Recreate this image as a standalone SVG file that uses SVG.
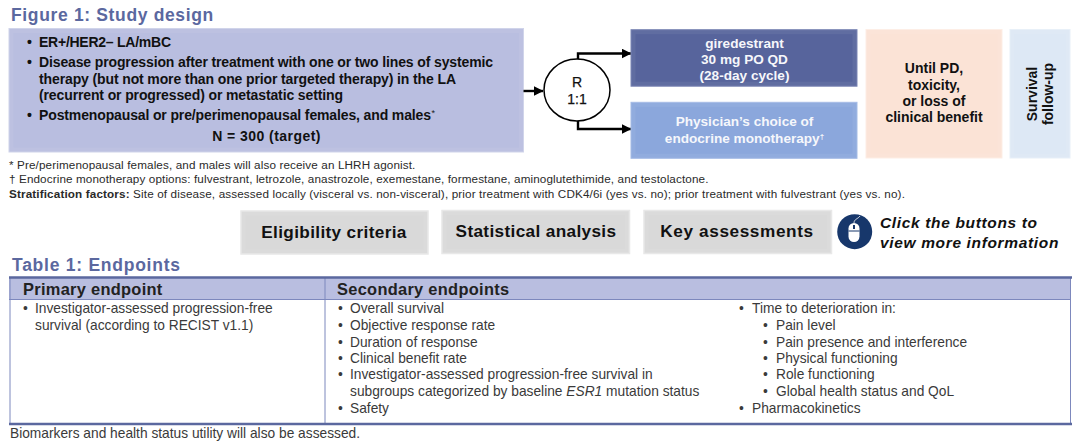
<svg xmlns="http://www.w3.org/2000/svg" width="1080" height="442" viewBox="0 0 1080 442">
<style>
text{font-family:"Liberation Sans",Arial,sans-serif;fill:#1a1a1a}
.h{font-size:17.5px;font-weight:700;fill:#5b689f;letter-spacing:.65px}
.e{font-size:14px;font-weight:700;fill:#111}
.f{font-size:11.7px;fill:#2a2a2a;letter-spacing:.12px}
.w{font-size:13.6px;font-weight:700;fill:#f6f7fb;text-anchor:middle}
.k{font-size:14px;font-weight:700;fill:#111;text-anchor:middle}
.b{font-size:17.2px;font-weight:700;fill:#111;text-anchor:middle;letter-spacing:.35px}
.t{font-size:13.75px;fill:#3a3a3a}
.th{font-size:16.4px;font-weight:700;fill:#222;letter-spacing:.3px}
.i{font-size:15.5px;font-weight:700;font-style:italic;fill:#111;letter-spacing:.65px}
.btn{fill:#d9d9d9;stroke:#e8e8e8;stroke-width:1.5}
.bev{fill:none;stroke:#fff;stroke-opacity:.06;stroke-width:4}
.c{fill:none;stroke:#000;stroke-width:2.4}
</style>
<defs><marker id="a" markerUnits="userSpaceOnUse" markerWidth="10" markerHeight="10" refX="9.500" refY="5" orient="auto"><path d="M0 0L10 5L0 10Z" fill="#000"/></marker></defs>
<text class="h" x="11" y="21">Figure 1: Study design</text>
<g id="eligibility">
<rect x="9" y="28.500" width="514.500" height="123.500" fill="#b9bee0" stroke="#d0d4ea"/>
<rect class="bev" x="11.500" y="31" width="509.500" height="118.500"/>
<text class="e" x="27" y="47">•</text><text class="e" x="39" y="47" textLength="132">ER+/HER2– LA/mBC</text>
<text class="e" x="27" y="67">•</text><text class="e" x="39" y="67" textLength="454">Disease progression after treatment with one or two lines of systemic</text>
<text class="e" x="39" y="83.500" textLength="417">therapy (but not more than one prior targeted therapy) in the LA</text>
<text class="e" x="39" y="100" textLength="304">(recurrent or progressed) or metastatic setting</text>
<text class="e" x="27" y="120">•</text><text class="e" x="39" y="120" textLength="392">Postmenopausal or pre/perimenopausal females, and males</text><text x="431.500" y="116" font-size="9">*</text>
<text class="e" x="266.500" y="141" text-anchor="middle" letter-spacing=".45">N = 300 (target)</text>
</g>
<g id="connectors">
<path class="c" d="M523.500 91H543" marker-end="url(#a)"/>
<path class="c" d="M578 59V53.500H631" marker-end="url(#a)"/>
<path class="c" d="M578 121V129H631" marker-end="url(#a)"/>
</g>
<g id="randomize"><ellipse cx="577" cy="90" rx="33" ry="31" fill="#fff" stroke="#000" stroke-width="1.500"/>
<text class="k" x="577" y="87" style="font-weight:400" stroke="#111" stroke-width=".25">R</text><text class="k" x="577" y="104" style="font-weight:400" stroke="#111" stroke-width=".25">1:1</text></g>
<g id="giredestrant"><rect x="631" y="29.700" width="226" height="56.500" fill="#57649c" stroke="#7c87b5"/>
<rect class="bev" x="633.500" y="32.200" width="221" height="51.500"/>
<text class="w" x="744.500" y="47.500">giredestrant</text><text class="w" x="744.500" y="64">30 mg PO QD</text><text class="w" x="744.500" y="80">(28-day cycle)</text></g>
<g id="physician"><rect x="631" y="102.300" width="226" height="56" fill="#8ba7dc" stroke="#a5bce6"/>
<rect class="bev" x="633.500" y="104.800" width="221" height="51"/>
<text class="w" x="744.500" y="126">Physician’s choice of</text><text class="w" x="744.500" y="142.700">endocrine monotherapy<tspan font-size="8" dy="-4">†</tspan></text></g>
<g id="until"><rect x="866" y="29.500" width="136" height="128.500" fill="#fbe3d6" stroke="#fdeee6"/>
<rect class="bev" x="868.500" y="32" width="131" height="123.500"/>
<text class="k" x="934" y="73">Until PD,</text><text class="k" x="934" y="89.500">toxicity,</text><text class="k" x="934" y="106">or loss of</text><text class="k" x="934" y="122">clinical benefit</text></g>
<g id="survival"><rect x="1010" y="29.500" width="60" height="128.500" fill="#dde8f5" stroke="#e8f0f8"/>
<rect class="bev" x="1012.500" y="32" width="55" height="123.500"/>
<text class="k" transform="translate(1037 94) rotate(-90)">Survival</text><text class="k" transform="translate(1053 94) rotate(-90)">follow-up</text></g>
<text class="f" x="9" y="169">* Pre/perimenopausal females, and males will also receive an LHRH agonist.</text>
<text class="f" x="9" y="183" textLength="699.500">† Endocrine monotherapy options: fulvestrant, letrozole, anastrozole, exemestane, formestane, aminoglutethimide, and testolactone.</text>
<text class="f" x="9" y="197.500" textLength="896"><tspan font-weight="700">Stratification factors:</tspan> Site of disease, assessed locally (visceral vs. non-visceral), prior treatment with CDK4/6i (yes vs. no); prior treatment with fulvestrant (yes vs. no).</text>
<g id="btn-eligibility"><rect class="btn" x="241" y="211" width="187" height="43"/><rect class="bev" x="243.500" y="213.500" width="182" height="38"/><text class="b" x="334" y="238">Eligibility criteria</text></g>
<g id="btn-statistical"><rect class="btn" x="442" y="210.500" width="187.500" height="43"/><rect class="bev" x="444.500" y="213" width="182.500" height="38"/><text class="b" x="536" y="237">Statistical analysis</text></g>
<g id="btn-key"><rect class="btn" x="644" y="210.500" width="187.500" height="43"/><rect class="bev" x="646.500" y="213" width="182.500" height="38"/><text class="b" x="737" y="237" style="letter-spacing:.6px">Key assessments</text></g>
<g id="hint"><circle cx="854.700" cy="231.700" r="17.500" fill="#17376b"/><path d="M854 223C854 219 858 219 860 216" fill="none" stroke="#fff" stroke-width=".8"/><rect x="848.500" y="223" width="11" height="19" rx="5.500" fill="#fff"/><path d="M848.500 231H859.500" stroke="#17376b"/><rect x="853" y="225" width="2" height="4" fill="#17376b"/>
<text class="i" x="880" y="228.300">Click the buttons to</text><text class="i" x="880" y="247.700">view more information</text></g>
<text class="h" x="12" y="271" style="letter-spacing:.75px">Table 1: Endpoints</text>
<g id="table">
<rect x="9" y="277" width="1062" height="22.500" fill="#b9bee0"/>
<path d="M9 299.500H1070.500M325 278V424M1070.500 278V424M10 278V424" stroke="#7d88bd" fill="none"/>
<path d="M9 277.500H1072M9 424H1072" stroke="#5b689f" stroke-width="2.500" fill="none"/>
<text class="th" x="23" y="295">Primary endpoint</text><text class="th" x="337" y="295">Secondary endpoints</text>
<text class="t" x="23" y="313.300">•</text><text class="t" x="35" y="313.300">Investigator-assessed progression-free</text><text class="t" x="35" y="330">survival (according to RECIST v1.1)</text>
<text class="t" x="338" y="313.300">•</text><text class="t" x="350" y="313.300">Overall survival</text>
<text class="t" x="338" y="330">•</text><text class="t" x="350" y="330">Objective response rate</text>
<text class="t" x="338" y="346.700">•</text><text class="t" x="350" y="346.700">Duration of response</text>
<text class="t" x="338" y="362.700">•</text><text class="t" x="350" y="362.700">Clinical benefit rate</text>
<text class="t" x="338" y="379.300">•</text><text class="t" x="350" y="379.300">Investigator-assessed progression-free survival in</text>
<text class="t" x="350" y="396">subgroups categorized by baseline <tspan font-style="italic">ESR1</tspan> mutation status</text>
<text class="t" x="338" y="412.700">•</text><text class="t" x="350" y="412.700">Safety</text>
<text class="t" x="739" y="313.300">•</text><text class="t" x="752" y="313.300">Time to deterioration in:</text>
<text class="t" x="763" y="330">•</text><text class="t" x="776" y="330">Pain level</text>
<text class="t" x="763" y="346.700">•</text><text class="t" x="776" y="346.700">Pain presence and interference</text>
<text class="t" x="763" y="362.700">•</text><text class="t" x="776" y="362.700">Physical functioning</text>
<text class="t" x="763" y="379.300">•</text><text class="t" x="776" y="379.300">Role functioning</text>
<text class="t" x="763" y="396">•</text><text class="t" x="776" y="396">Global health status and QoL</text>
<text class="t" x="739" y="412.700">•</text><text class="t" x="752" y="412.700">Pharmacokinetics</text>
</g>
<text class="t" x="10" y="438">Biomarkers and health status utility will also be assessed.</text>
</svg>
